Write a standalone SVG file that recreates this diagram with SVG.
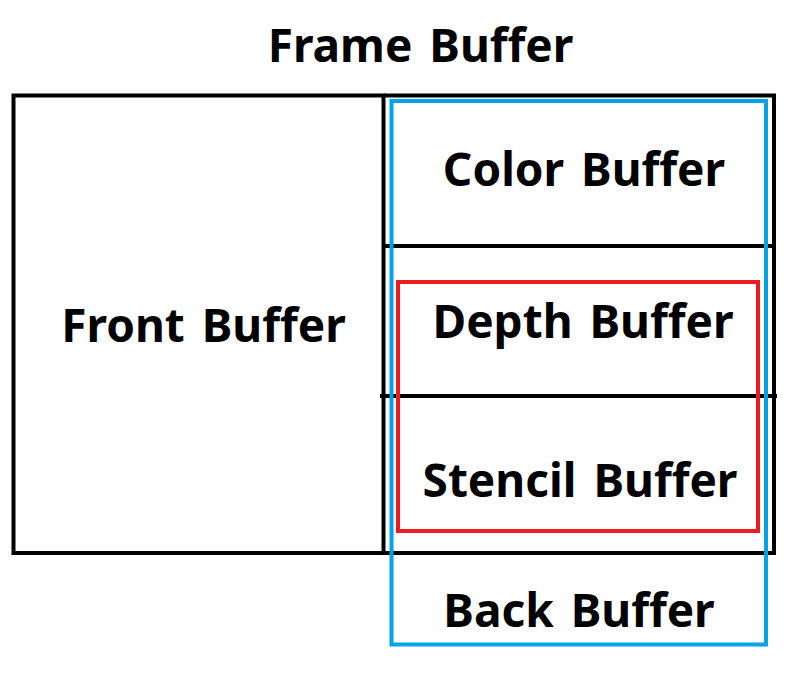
<svg xmlns="http://www.w3.org/2000/svg" width="800" height="680" viewBox="0 0 800 680">
<style>
  .lbl { font-family: "Noto Sans", "Open Sans", "DejaVu Sans", sans-serif; font-weight: bold; font-size: 46px; fill: #000; text-anchor: middle; word-spacing: 5px; }
  .blk { fill: none; stroke: #000; stroke-width: 4; }
  .line { stroke: #000; stroke-width: 4; fill: none; }
</style>
<rect width="800" height="680" fill="#fff"/>
<g id="frame-buffer">
  <text class="lbl" x="420.5" y="62">Frame Buffer</text>
</g>
<g id="front-buffer">
  <rect class="blk" x="13.5" y="95.5" width="370" height="457.5"/>
  <text class="lbl" x="203.5" y="342">Front Buffer</text>
</g>
<g id="back-region">
  <path class="line" d="M383.5 95.5 H774 V553 H383.5"/>
  <line class="line" x1="383.5" y1="246" x2="775" y2="246"/>
  <line class="line" x1="380" y1="396" x2="777" y2="396"/>
</g>
<g id="color-buffer">
  <text class="lbl" x="584" y="186">Color Buffer</text>
</g>
<g id="depth-stencil">
  <rect x="398" y="282" width="360" height="249" fill="none" stroke="#ED1C24" stroke-width="4"/>
</g>
<g id="depth-buffer">
  <text class="lbl" x="583" y="338">Depth Buffer</text>
</g>
<g id="stencil-buffer">
  <text class="lbl" x="580" y="497">Stencil Buffer</text>
</g>
<g id="back-buffer">
  <rect x="391.5" y="101" width="374.5" height="543.5" fill="none" stroke="#00A2E8" stroke-width="4"/>
  <text class="lbl" x="579" y="627">Back Buffer</text>
</g>
</svg>
